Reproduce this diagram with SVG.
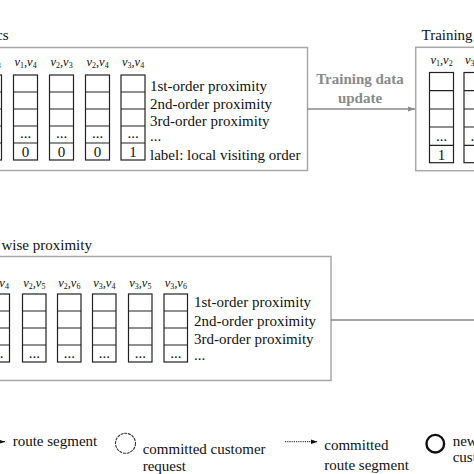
<svg xmlns="http://www.w3.org/2000/svg" width="474" height="474" viewBox="0 0 474 474">
<style>
text{font-family:"Liberation Serif","Times New Roman",serif;fill:#111}
.t{font-size:15px}
.lab{font-size:12.5px;font-style:italic}
.sub{font-size:8px;font-style:normal}
.panel{fill:none;stroke:#a8a8a8;stroke-width:1.5}
.cell{fill:#fff;stroke:#222;stroke-width:1.2}
.ln{stroke:#222;stroke-width:1.2}
.gray{fill:#8a8a8a;font-weight:bold;font-size:15px}
.conn{stroke:#8a8a8a;stroke-width:1.6;fill:none}
</style>
<defs>
<marker id="ag" markerWidth="8" markerHeight="8" refX="7" refY="4" orient="auto" markerUnits="userSpaceOnUse"><path d="M0,1.5 L7,4 L0,6.5 Z" fill="#8a8a8a"/></marker>
<marker id="ab" markerWidth="8" markerHeight="8" refX="7" refY="4" orient="auto" markerUnits="userSpaceOnUse"><path d="M0,1.5 L7,4 L0,6.5 Z" fill="#111"/></marker>
</defs>

<g id="top-panel">
<rect class="panel" x="-5" y="47.5" width="312.5" height="123"/>
<text class="t" x="8.5" y="40" text-anchor="end">cs</text>
<g id="col-t0">
<rect class="cell" x="-22.5" y="75" width="24" height="85"/>
<path class="ln" d="M-22.5,92H1.5M-22.5,109H1.5M-22.5,126H1.5M-22.5,143H1.5"/>
<text class="lab" x="-10.5" y="66" text-anchor="middle">v<tspan class="sub" dy="2">1</tspan><tspan dy="-2">,v</tspan><tspan class="sub" dy="2">3</tspan></text>
</g>
<g id="col-t1">
<rect class="cell" x="13.5" y="75" width="24" height="85"/>
<path class="ln" d="M13.5,92H37.5M13.5,109H37.5M13.5,126H37.5M13.5,143H37.5"/>
<text class="lab" x="25.5" y="66" text-anchor="middle">v<tspan class="sub" dy="2">1</tspan><tspan dy="-2">,v</tspan><tspan class="sub" dy="2">4</tspan></text>
<text class="t" x="25.5" y="138" text-anchor="middle">...</text>
<text class="t" x="25.5" y="157" text-anchor="middle">0</text>
</g>
<g id="col-t2">
<rect class="cell" x="49.5" y="75" width="24" height="85"/>
<path class="ln" d="M49.5,92H73.5M49.5,109H73.5M49.5,126H73.5M49.5,143H73.5"/>
<text class="lab" x="61.5" y="66" text-anchor="middle">v<tspan class="sub" dy="2">2</tspan><tspan dy="-2">,v</tspan><tspan class="sub" dy="2">3</tspan></text>
<text class="t" x="61.5" y="138" text-anchor="middle">...</text>
<text class="t" x="61.5" y="157" text-anchor="middle">0</text>
</g>
<g id="col-t3">
<rect class="cell" x="85.5" y="75" width="24" height="85"/>
<path class="ln" d="M85.5,92H109.5M85.5,109H109.5M85.5,126H109.5M85.5,143H109.5"/>
<text class="lab" x="97.5" y="66" text-anchor="middle">v<tspan class="sub" dy="2">2</tspan><tspan dy="-2">,v</tspan><tspan class="sub" dy="2">4</tspan></text>
<text class="t" x="97.5" y="138" text-anchor="middle">...</text>
<text class="t" x="97.5" y="157" text-anchor="middle">0</text>
</g>
<g id="col-t4">
<rect class="cell" x="121" y="75" width="24" height="85"/>
<path class="ln" d="M121,92H145M121,109H145M121,126H145M121,143H145"/>
<text class="lab" x="133" y="66" text-anchor="middle">v<tspan class="sub" dy="2">3</tspan><tspan dy="-2">,v</tspan><tspan class="sub" dy="2">4</tspan></text>
<text class="t" x="133" y="138" text-anchor="middle">...</text>
<text class="t" x="133" y="157" text-anchor="middle">1</text>
</g>
<text class="t" x="150" y="91">1st-order proximity</text>
<text class="t" x="150" y="108.5">2nd-order proximity</text>
<text class="t" x="150" y="125.5">3rd-order proximity</text>
<text class="t" x="150" y="140.5">...</text>
<text class="t" x="150" y="160">label: local visiting order</text>
</g>

<g id="right-panel">
<rect class="panel" x="415.7" y="47.3" width="70" height="123.4"/>
<text class="t" x="421.5" y="40">Training</text>
<g id="col-r1">
<rect class="cell" x="429.5" y="72.5" width="24" height="90.2"/>
<path class="ln" d="M429.5,90.7H453.5M429.5,109H453.5M429.5,127H453.5M429.5,145.3H453.5"/>
<text class="lab" x="441.5" y="63.5" text-anchor="middle">v<tspan class="sub" dy="2">1</tspan><tspan dy="-2">,v</tspan><tspan class="sub" dy="2">2</tspan></text>
<text class="t" x="441.5" y="141" text-anchor="middle">...</text>
<text class="t" x="441.5" y="159.5" text-anchor="middle">1</text>
</g>
<g id="col-r2">
<rect class="cell" x="464" y="72.5" width="24" height="90.2"/>
<path class="ln" d="M464,90.7H488M464,109H488M464,127H488M464,145.3H488"/>
<text class="lab" x="476" y="63.5" text-anchor="middle">v<tspan class="sub" dy="2">3</tspan><tspan dy="-2">,v</tspan><tspan class="sub" dy="2">4</tspan></text>
<text class="t" x="476" y="141" text-anchor="middle">...</text>
</g>
</g>

<g id="bottom-panel">
<rect class="panel" x="-5" y="256.5" width="336" height="124"/>
<text class="t" x="1.5" y="250">wise proximity</text>
<g id="col-b0">
<rect class="cell" x="-14" y="294" width="23.5" height="68"/>
<path class="ln" d="M-14,311H9.5M-14,328H9.5M-14,345H9.5"/>
<text class="lab" x="-2.25" y="287" text-anchor="middle">v<tspan class="sub" dy="2">2</tspan><tspan dy="-2">,v</tspan><tspan class="sub" dy="2">4</tspan></text>
<text class="t" x="-2.25" y="358" text-anchor="middle">...</text>
</g>
<g id="col-b1">
<rect class="cell" x="22.5" y="294" width="23.5" height="68"/>
<path class="ln" d="M22.5,311H46M22.5,328H46M22.5,345H46"/>
<text class="lab" x="34.25" y="287" text-anchor="middle">v<tspan class="sub" dy="2">2</tspan><tspan dy="-2">,v</tspan><tspan class="sub" dy="2">5</tspan></text>
<text class="t" x="34.25" y="358" text-anchor="middle">...</text>
</g>
<g id="col-b2">
<rect class="cell" x="57.5" y="294" width="23.5" height="68"/>
<path class="ln" d="M57.5,311H81M57.5,328H81M57.5,345H81"/>
<text class="lab" x="69.25" y="287" text-anchor="middle">v<tspan class="sub" dy="2">2</tspan><tspan dy="-2">,v</tspan><tspan class="sub" dy="2">6</tspan></text>
<text class="t" x="69.25" y="358" text-anchor="middle">...</text>
</g>
<g id="col-b3">
<rect class="cell" x="92.5" y="294" width="23.5" height="68"/>
<path class="ln" d="M92.5,311H116M92.5,328H116M92.5,345H116"/>
<text class="lab" x="104.25" y="287" text-anchor="middle">v<tspan class="sub" dy="2">3</tspan><tspan dy="-2">,v</tspan><tspan class="sub" dy="2">4</tspan></text>
<text class="t" x="104.25" y="358" text-anchor="middle">...</text>
</g>
<g id="col-b4">
<rect class="cell" x="128.5" y="294" width="23.5" height="68"/>
<path class="ln" d="M128.5,311H152M128.5,328H152M128.5,345H152"/>
<text class="lab" x="140.25" y="287" text-anchor="middle">v<tspan class="sub" dy="2">3</tspan><tspan dy="-2">,v</tspan><tspan class="sub" dy="2">5</tspan></text>
<text class="t" x="140.25" y="358" text-anchor="middle">...</text>
</g>
<g id="col-b5">
<rect class="cell" x="164" y="294" width="23.5" height="68"/>
<path class="ln" d="M164,311H187.5M164,328H187.5M164,345H187.5"/>
<text class="lab" x="175.75" y="287" text-anchor="middle">v<tspan class="sub" dy="2">3</tspan><tspan dy="-2">,v</tspan><tspan class="sub" dy="2">6</tspan></text>
<text class="t" x="175.75" y="358" text-anchor="middle">...</text>
</g>
<text class="t" x="194" y="307">1st-order proximity</text>
<text class="t" x="194" y="326">2nd-order proximity</text>
<text class="t" x="194" y="343.5">3rd-order proximity</text>
<text class="t" x="194" y="359.5">...</text>
</g>

<g id="connectors">
<line class="conn" x1="307.5" y1="109" x2="415" y2="109" marker-end="url(#ag)"/>
<text class="gray" x="360" y="84" text-anchor="middle">Training data</text>
<text class="gray" x="360" y="103" text-anchor="middle">update</text>
<line class="conn" x1="331" y1="320" x2="474" y2="320"/>
</g>

<g id="legend">
<line x1="-10" y1="441.7" x2="5" y2="441.7" stroke="#111" stroke-width="1" marker-end="url(#ab)"/>
<text class="t" x="12.7" y="446">route segment</text>
<circle cx="125.5" cy="443.3" r="10" fill="none" stroke="#333" stroke-width="1.1" stroke-dasharray="3 0.8"/>
<text class="t" x="142.7" y="454">committed customer</text>
<text class="t" x="142.7" y="470.5">request</text>
<line x1="285" y1="441.7" x2="317.5" y2="441.7" stroke="#111" stroke-width="1" stroke-dasharray="1.2 1" marker-end="url(#ab)"/>
<text class="t" x="324.3" y="450">committed</text>
<text class="t" x="324.3" y="470">route segment</text>
<circle cx="435.3" cy="443.7" r="8.8" fill="none" stroke="#111" stroke-width="2.4"/>
<text class="t" x="452.7" y="446">new</text>
<text class="t" x="452.7" y="462">customer</text>
</g>
</svg>
